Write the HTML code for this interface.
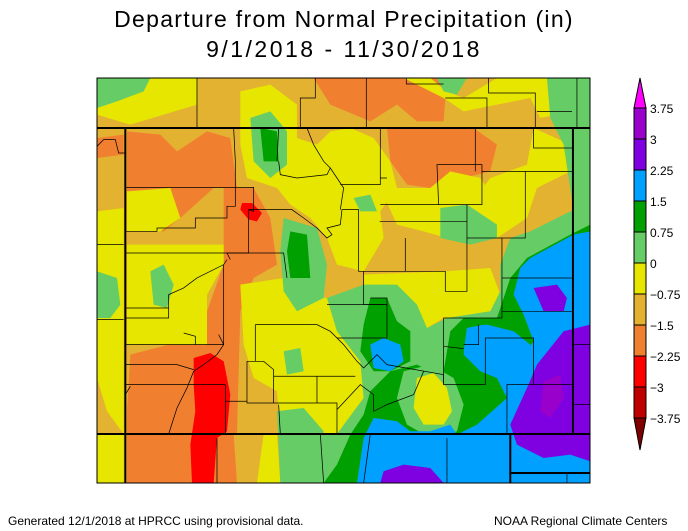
<!DOCTYPE html>
<html><head><style>
body{margin:0;background:#fff;width:688px;height:531px;overflow:hidden;font-family:"Liberation Sans",sans-serif}
.t{position:absolute;left:0;width:688px;text-align:center;font-size:23px;color:#000}
.s{position:absolute;font-size:12px;color:#000}
.cb{position:absolute;left:650px;font-size:12px}
</style></head><body>
<div class="t" style="top:6px;letter-spacing:1.3px">Departure from Normal Precipitation (in)</div>
<div class="t" style="top:36px;letter-spacing:2.5px">9/1/2018 - 11/30/2018</div>
<svg width="688" height="531" style="position:absolute;left:0;top:0">
<defs><clipPath id="c"><rect x="0" y="0" width="1480" height="1215"/></clipPath></defs>
<g transform="translate(97,78) scale(0.3333)" clip-path="url(#c)">
<rect x="0" y="0" width="1480" height="1215" fill="#e4b231"/>
<g fill="#f08030">
<path d="M650 0 H1050 L1040 130 L960 130 L900 80 L820 130 L700 80 Z"/>
<path d="M870 150 L1130 150 L1200 200 L1180 280 L1100 300 L1000 330 L930 320 L880 250 Z"/>
<path d="M90 160 L190 170 L240 220 L330 160 L400 180 L420 330 L350 330 L250 420 L200 460 L90 450 Z"/>
<path d="M380 330 L470 330 L520 420 L540 560 L470 600 L430 700 L420 1068 L380 1068 L330 980 L330 700 L380 560 Z"/>
<path d="M100 830 L290 780 L400 800 L410 1068 L420 1215 H90 L90 1000 Z"/>
<path d="M0 180 L80 170 L80 230 L0 240Z"/>
</g>
<g fill="#e6e600">
<path d="M0 0 H300 L300 80 L200 110 L100 140 L0 110 Z"/>
<path d="M430 40 L520 20 L600 80 L600 180 L660 200 L700 160 L760 150 L830 180 L880 250 L900 330 L850 400 L860 480 L800 580 L720 560 L690 480 L640 420 L580 380 L540 330 L450 300 L430 200 Z"/>
<path d="M850 330 L1000 330 L1060 280 L1150 300 L1200 380 L1120 440 L1050 480 L980 460 L900 440 Z"/>
<path d="M920 0 H1000 L1050 40 L1100 60 L1200 0 H1440 L1430 100 L1330 120 L1300 60 L1200 80 L1100 100 L1040 60 Z"/>
<path d="M1310 150 L1420 200 L1420 280 L1320 330 L1290 420 L1200 480 L1120 480 L1120 380 L1180 300 L1290 260 Z"/>
<path d="M90 340 L220 330 L250 420 L190 460 L90 460Z"/>
<path d="M90 500 L380 500 L380 560 L330 650 L330 800 L90 800 Z"/>
<path d="M0 400 L80 390 L80 1068 L30 1000 L0 900Z"/>
<path d="M430 620 L560 600 L620 650 L690 660 L720 760 L790 850 L800 960 L720 1068 L550 1068 L540 940 L470 900 L440 800 Z"/>
<path d="M800 590 L1040 580 L1180 570 L1210 650 L1180 710 L1040 720 L990 750 L940 720 L870 680 L800 660Z"/>
<path d="M500 1068 L540 1068 L550 1215 H480 Z"/>
<path d="M0 1068 H80 V1215 H0Z"/>
</g>
<g fill="#66cc66">
<path d="M0 0 H160 L140 40 L60 70 L0 90 Z"/>
<path d="M460 120 L520 100 L570 160 L570 260 L520 300 L470 250 Z"/>
<path d="M1020 0 H1110 L1080 50 L1040 40Z"/>
<path d="M1350 0 H1480 V420 L1430 400 L1400 200 L1360 120 Z"/>
<path d="M160 580 L200 560 L230 620 L210 690 L170 680 Z"/>
<path d="M0 580 L60 600 L70 680 L40 720 L0 720 Z"/>
<path d="M770 360 L820 350 L840 400 L790 400Z"/>
<path d="M560 420 L660 450 L690 560 L680 660 L600 700 L560 640 L550 520 Z"/>
<path d="M690 660 L800 620 L900 620 L960 680 L990 750 L1050 720 L1180 700 L1210 640 L1210 560 L1240 480 L1300 460 L1420 400 L1480 380 V1215 H760 L680 1215 L660 1068 L720 1068 L800 960 L790 850 L720 760 Z"/>
<path d="M1030 390 L1110 380 L1200 440 L1200 480 L1120 500 L1030 480 Z"/>
<path d="M540 1000 L620 990 L680 1060 L680 1215 H550 Z"/>
<path d="M560 820 L610 810 L620 880 L570 890Z"/>
</g>
<g fill="#00a000">
<path d="M490 150 L540 160 L545 250 L500 250 Z"/>
<path d="M580 460 L630 470 L640 600 L580 600 L570 520Z"/>
<path d="M820 660 L870 660 L900 730 L940 760 L940 850 L880 880 L830 880 L790 820 L800 740 Z"/>
<path d="M880 880 L960 860 L1000 880 L950 950 L950 1020 L1000 1060 L1070 1040 L1080 960 L1040 900 L1040 880 L1060 760 L1100 720 L1200 720 L1240 600 L1290 540 L1420 470 L1480 440 V1215 H680 L720 1160 L760 1070 L800 1010 L820 940 L860 900 Z"/>
</g>
<g fill="#66cc66">
<path d="M920 880 L1000 860 L1070 900 L1100 980 L1080 1060 L1000 1080 L930 1040 L900 960 Z"/>
</g>
<path d="M960 900 L1010 885 L1050 930 L1065 1000 L1040 1040 L980 1040 L950 990 Z" fill="#e6e600"/>
<g fill="#00a0ff">
<path d="M1430 470 L1300 540 L1270 570 L1250 650 L1280 710 L1310 790 L1280 830 L1200 800 L1160 740 L1110 750 L1100 820 L1150 880 L1200 900 L1230 960 L1140 1040 L1080 1070 L1060 1040 L1000 1060 L940 1060 L900 1030 L830 1020 L800 1080 L780 1215 H1480 V460 Z"/>
<path d="M1110 750 L1170 740 L1250 760 L1300 800 L1290 860 L1220 900 L1150 880 L1100 830 Z"/>
<path d="M820 800 L860 780 L910 800 L920 850 L880 880 L830 870 Z"/>
</g>
<g fill="#7f00e0">
<path d="M1310 630 L1380 620 L1410 660 L1400 700 L1340 700 Z"/>
<path d="M1400 760 L1480 740 V1150 L1420 1130 L1340 1140 L1260 1100 L1240 1040 L1290 930 L1320 860 Z"/>
<path d="M860 1180 L920 1160 L1000 1170 L1040 1215 H850 Z"/>
</g>
<path d="M1340 910 L1390 890 L1400 960 L1360 1020 L1330 1000 Z" fill="#9900cc"/>
<g fill="#ff0000">
<path d="M290 840 L340 825 L380 850 L400 950 L390 1060 L360 1080 L350 1215 H285 L280 1100 L295 1000 L290 920 Z"/>
<path d="M435 375 L465 375 L495 405 L480 430 L455 425 L430 395Z"/>
</g>
<g stroke="#000" fill="none" stroke-width="2.2">
<path d="M300 0 V150 M655 0 V60 L610 60 V150 M808 0 V150 M928 0 V18 H1040 M1045 60 H1170 V150 M1175 0 V45 H1315 V150 M1320 100 H1425 M1440 0 V150"/>
<path d="M0 205 L20 185 H55 L65 225 L85 225 M0 500 H80 M0 725 H80"/>
<path d="M85 328 H470 V400 L455 395 V525 H390 L400 545 M85 460 H180 L180 450 H295 V420 H390 V385 L415 385 V250 L410 150"/>
<path d="M455 395 H585 L620 420 L660 450 L690 480 L705 470 L690 450 L730 440 L735 395 L785 395 V580 L800 580 M730 395 L740 330 L720 300 L700 270 L690 290 L600 300 L550 290 L545 250 M85 525 H560 L570 600 M545 150 L540 250"/>
<path d="M630 150 L650 200 L680 250 L700 270 M730 320 H850 V150 M850 300 L870 300 M850 380 H1110 V640 H1045 V580 H800 L800 680 H870 V660 L820 660 M848 430 H1110 M925 480 V580 M1020 260 H1155 V380 H1025 Z M1155 280 H1285 V480 H1110 M1285 280 H1425 M1310 150 V210 H1425 M1135 150 V280"/>
<path d="M1215 480 V720 H1040 V920 H1165 V780 H1310 V920 M1215 600 H1425 M1215 700 H1425 M1145 740 V800 H1100 M1040 805 L1100 812"/>
<path d="M390 545 L380 560 L300 600 L260 630 L215 650 V690 H85 M215 690 V720 H85 M85 800 H380 V690 M380 560 V770 M260 765 L295 775 V800 M85 860 L240 860 L290 875 M85 920 H290 M85 1068 L85 950 L100 925 M215 1068 L240 990 L270 930 L290 880 L320 860 L360 830 L380 800 L365 770 M360 1080 L360 1215 M290 920 H385 V1068 M385 970 H450"/>
<path d="M475 740 H660 L700 760 L740 800 L780 850 L800 870 L840 830 L870 860 L1040 890 L1040 920 M450 850 H500 L530 875 V975 H450 V850 M530 895 H775 M660 895 V975 M530 975 H720 L720 1068 M720 995 L790 920 L830 950 L830 1000 L870 980 L950 950 L980 880 M475 740 V850 M545 980 L550 1068 M670 1068 L680 1215 M820 1068 L800 1215 M1050 1080 V1215 M1430 920 H1230 V1068 M1430 800 H1480 M1430 980 H1480 M1410 1185 V1215"/>
<path d="M690 680 H870 V780 H720"/>
</g>
<g stroke="#000" fill="none" stroke-width="6">
<path d="M0 150 H1480 M85 150 V1215 M0 1068 H1480 M1428 150 V1068 M1240 1068 V1215 M1240 1185 H1480"/>
</g>
</g>
<rect x="97" y="78" width="493" height="405" fill="none" stroke="#000" stroke-width="1"/>
<g stroke="#000" stroke-width="1">
<polygon points="634,108 640,78 646,108" fill="#ff00ff"/>
<rect x="634" y="108" width="12" height="31" fill="#9900cc"/>
<rect x="634" y="139" width="12" height="31" fill="#7f00e0"/>
<rect x="634" y="170" width="12" height="31" fill="#00a0ff"/>
<rect x="634" y="201" width="12" height="31" fill="#00a000"/>
<rect x="634" y="232" width="12" height="31" fill="#66cc66"/>
<rect x="634" y="263" width="12" height="31" fill="#e6e600"/>
<rect x="634" y="294" width="12" height="31" fill="#e4b231"/>
<rect x="634" y="325" width="12" height="31" fill="#f08030"/>
<rect x="634" y="356" width="12" height="31" fill="#ff0000"/>
<rect x="634" y="387" width="12" height="31" fill="#c00000"/>
<polygon points="634,418 640,450 646,418" fill="#800000"/>
</g>
</svg>
<div class="cb" style="top:102px">3.75</div>
<div class="cb" style="top:133px">3</div>
<div class="cb" style="top:164px">2.25</div>
<div class="cb" style="top:195px">1.5</div>
<div class="cb" style="top:226px">0.75</div>
<div class="cb" style="top:257px">0</div>
<div class="cb" style="top:288px">−0.75</div>
<div class="cb" style="top:319px">−1.5</div>
<div class="cb" style="top:350px">−2.25</div>
<div class="cb" style="top:381px">−3</div>
<div class="cb" style="top:412px">−3.75</div>
<div class="s" style="left:8px;top:514px">Generated 12/1/2018 at HPRCC using provisional data.</div>
<div class="s" style="left:494px;top:514px">NOAA Regional Climate Centers</div>
</body></html>
